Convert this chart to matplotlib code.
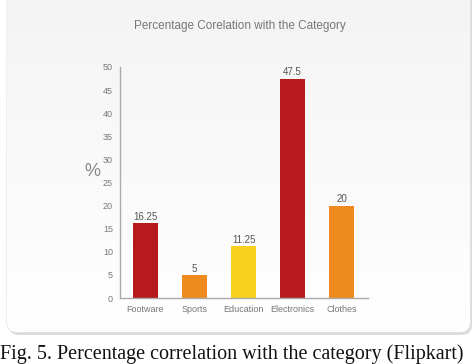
import numpy as np
import matplotlib.pyplot as plt
from matplotlib.patches import FancyBboxPatch

categories = ["Footware", "Sports", "Education", "Electronics", "Clothes"]
values = [16.25, 5, 11.25, 47.5, 20]
value_labels = ["16.25", "5", "11.25", "47.5", "20"]
colors = ["#b71a1c", "#ef8a1f", "#f7d11d", "#b71a1c", "#ef8a1f"]

font = ["Liberation Sans", "DejaVu Sans"]

fig = plt.figure(figsize=(4.74, 3.64), dpi=100)
fig.patch.set_facecolor("white")

# background panel with a soft gradient and shadow
bg = fig.add_axes([0, 0, 1, 1])
bg.set_xlim(0, 474)
bg.set_ylim(364, 0)
bg.axis("off")
shadow = FancyBboxPatch((9, -10), 463, 345, boxstyle="round,pad=0,rounding_size=10",
                        facecolor="#dcdcdc", edgecolor="none", zorder=0)
bg.add_patch(shadow)
panel = FancyBboxPatch((7, -12), 463, 344, boxstyle="round,pad=0,rounding_size=10",
                       facecolor="#f6f6f6", edgecolor="#e2e2e2", lw=0.8, zorder=1)
bg.add_patch(panel)
grad = np.linspace(0.955, 1.0, 256).reshape(-1, 1)
im = bg.imshow(np.dstack([grad, grad, grad]), extent=(7, 470, 332, -12),
               aspect="auto", zorder=2)
im.set_clip_path(panel)
bg.set_xlim(0, 474)
bg.set_ylim(364, 0)

ax = fig.add_axes([120 / 474, 1 - 298 / 364, 248 / 474, 231 / 364])
ax.patch.set_alpha(0)
x = np.arange(len(categories))
ax.bar(x, values, width=0.51, color=colors)
for xi, v, lab in zip(x, values, value_labels):
    ax.text(xi, v + 0.3, lab, ha="center", va="bottom", fontsize=7,
            color="#555555", family=font)

ax.set_xlim(-0.52, 4.54)
ax.set_ylim(0, 50)
ax.set_yticks(range(0, 51, 5))
ax.set_xticks(x)
ax.set_xticklabels(categories)
for lab in ax.get_xticklabels() + ax.get_yticklabels():
    lab.set_family(font)
    lab.set_fontsize(6.5)
    lab.set_color("#777777")
ax.tick_params(length=0, pad=5)
for s in ["top", "right"]:
    ax.spines[s].set_visible(False)
for s in ["left", "bottom"]:
    ax.spines[s].set_color("#aaaaaa")
    ax.spines[s].set_linewidth(1)

fig.text(92 / 474, 1 - 172 / 364, "%", fontsize=13, color="#888888",
         ha="center", va="center", family=font)
fig.text(240 / 474, 1 - 26 / 364, "Percentage Corelation with the Category",
         fontsize=8.5, color="#777777", ha="center", va="center", family=font)

fig.text(0 / 474, 1 - 359 / 364, "Fig. 5. Percentage correlation with the category (Flipkart)",
         fontsize=14.5, color="#111111", ha="left", va="baseline",
         family=["Liberation Serif", "DejaVu Serif"])

fig.savefig("out.png", dpi=100)
